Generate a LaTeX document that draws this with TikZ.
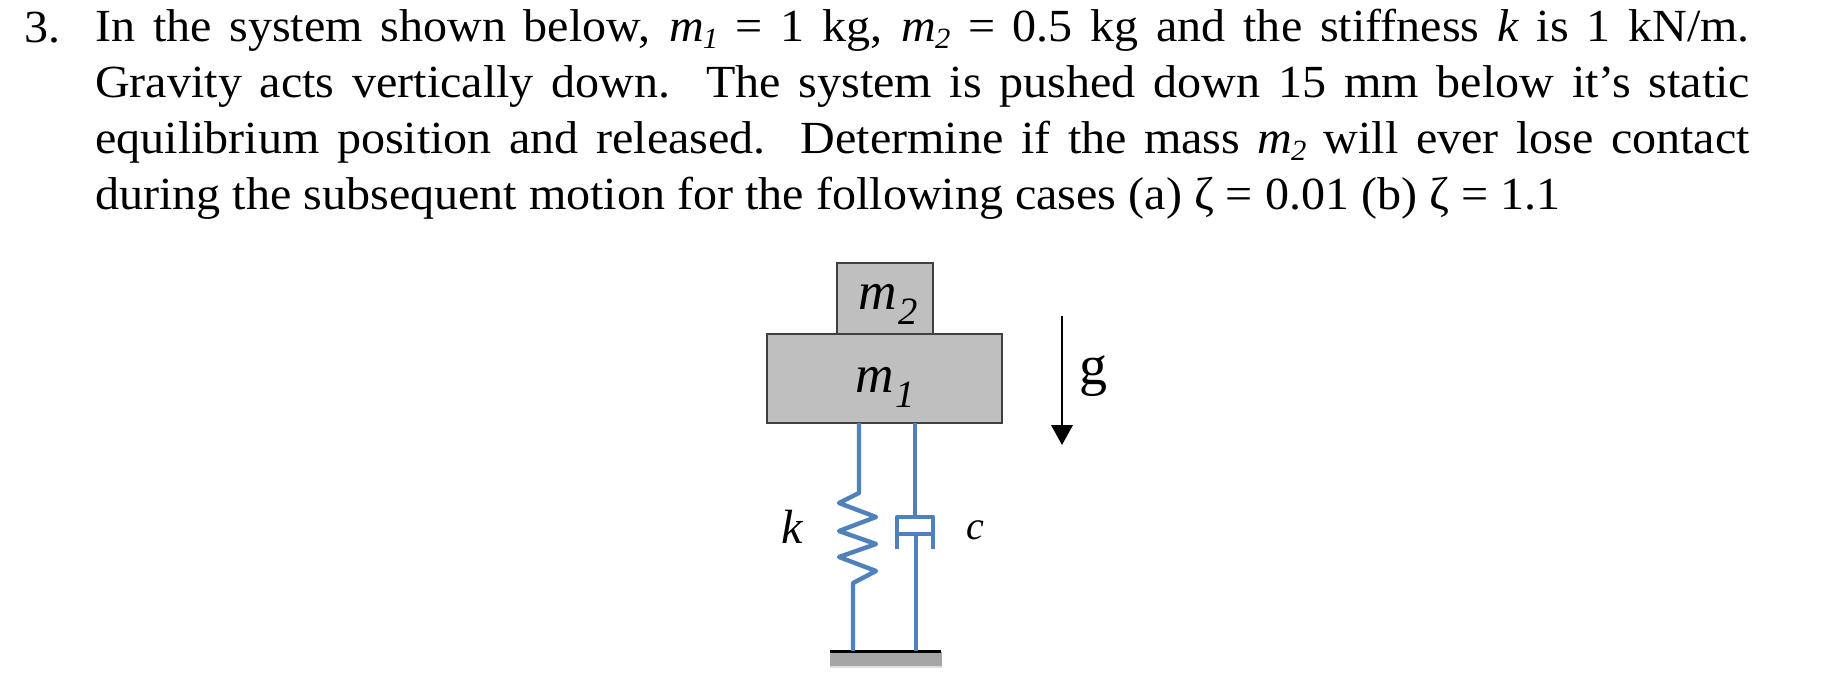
\documentclass[tikz,border=0pt]{standalone}
\usepackage{fontspec}
\usepackage{amsmath}
\setmainfont[FakeStretch=1.045]{Liberation Serif}
\newfontfamily\plainfont{Liberation Serif}
\usetikzlibrary{arrows.meta,shadows}
\definecolor{massgray}{HTML}{BFBFBF}
\definecolor{groundgray}{HTML}{A6A6A6}
\definecolor{linkblue}{HTML}{4F81BD}
\newcommand{\subidx}[1]{\hspace{-0.03em}\raisebox{-0.14em}{\fontsize{22}{22}\selectfont\textit{#1}}}
\newcommand{\masslabel}[1]{\fontsize{40}{40}\selectfont\plainfont\itshape m\hspace{0.04em}\raisebox{-0.28em}{\fontsize{29}{29}\selectfont #1}}
\tikzset{
	mass/.style={rectangle, draw=black!75, fill=massgray, line width=1.2pt, inner sep=0pt},
	link/.style={draw=linkblue, line width=3.3pt, line join=round},
	letter/.style={rectangle, draw=none, inner sep=0pt, font=\fontsize{36}{36}\selectfont\plainfont\itshape}
}
\begin{document}
\begin{tikzpicture}[x=0.75pt, y=-0.75pt]
			\useasboundingbox (0,0) rectangle (1848,697);
			
			\node[anchor=base west, inner sep=0pt, font=\fontsize{34.5}{42}\selectfont] (num) at (24,42){3.};
			\node[anchor=north west, inner sep=0pt, text width=1241pt, align=justify, font=\fontsize{34.5}{42}\selectfont] (task) at (95,9){In the system shown below, \textit{m}\subidx{1} = 1 kg, \textit{m}\subidx{2} = 0.5 kg and the stiffness \textit{k} is 1 kN/m.\linebreak
			Gravity acts vertically down.\ \ The system is pushed down 15 mm below it’s static\linebreak
			equilibrium position and released.\ \ Determine if the mass \textit{m}\subidx{2} will ever lose contact\linebreak
			during the subsequent motion for the following cases (a) ζ = 0.01 (b) ζ = 1.1};
			
			\node[mass, minimum width=72pt, minimum height=53.25pt] (m2) at (885,298.5){};
			\node[mass, minimum width=176.25pt, minimum height=66.75pt] (m1) at (884.5,378.5){};
			\node[draw=none, inner sep=0pt] (m2text) at (888,304){\masslabel{2}};
			\node[draw=none, inner sep=0pt] (m1text) at (885,387){\masslabel{1}};
			
			\node[letter, font=\fontsize{42}{42}\selectfont\plainfont] (g) at (1093,376){g};
			\node[letter] (k) at (792,527){k};
			\node[letter, font=\fontsize{30}{30}\selectfont\plainfont\itshape] (c) at (975,530){c};
			
			\node[fill=groundgray, minimum width=84pt, minimum height=10.5pt, inner sep=0pt, draw=none, drop shadow={shadow xshift=0pt, shadow yshift=-2pt, opacity=0.25}] (ground) at (885.5,658.5){};
			\node[fill=black, minimum width=83pt, minimum height=2.25pt, inner sep=0pt] (groundtop) at (885.5,651){};
			
			\coordinate (gtop) at (1062,316);
			\coordinate (gend) at (1062,445);
			\coordinate (springtop) at (859,423);
			\coordinate (springbot) at (853,651);
			\coordinate (rodtop) at (915,423);
			\coordinate (rodbot) at (916,651);
			
			% gravity arrow
			\draw[black, line width=2pt, -{Triangle[length=15pt, width=16pt]}] (gtop) -- (gend);
			
			% spring
			\draw[link] (springtop) -- (859,493) -- (839,503) -- (876,517) -- (839,531) -- (876,544) -- (839,557) -- (876,571) -- (853,583) -- (springbot);
			
			% damper
			\draw[link] (rodtop) -- (915,517);
			\draw[link, fill=white] (897,549) -- (897,517) -- (933,517) -- (933,549);
			\draw[link] (897,534) -- (933,534);
			\draw[link] (916,534) -- (rodbot);
			\end{tikzpicture}
\end{document}
